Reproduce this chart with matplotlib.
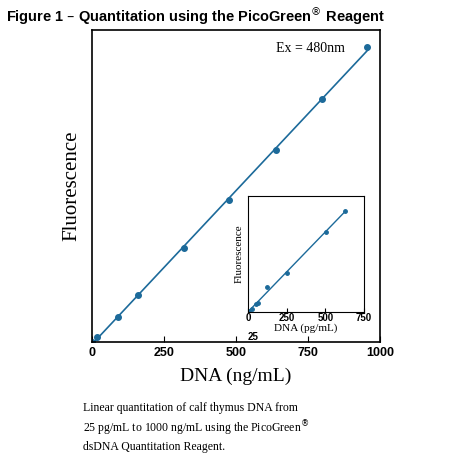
import matplotlib
matplotlib.use("Agg")
import matplotlib.pyplot as plt
import numpy as np

main_x = [0, 17, 90, 160, 320, 476, 639, 799, 955]
main_y = [0, 15, 80, 150, 300, 455, 615, 778, 945]
ins_x = [7, 26, 50, 65, 126, 253, 504, 624]
ins_y = [6, 29, 72, 78, 218, 333, 687, 868]
main_ticks = [0, 250, 500, 750, 1000]
ins_ticks = [0, 250, 500, 750]
col = "#1c6a9a"

fig = plt.figure(figsize=(4.74, 4.65), dpi=100)
fig.text(0.012, 0.965, "Figure 1 – Quantitation using the PicoGreen$^{®}$ Reagent",
         fontsize=10.5, fontweight="bold", family="Liberation Sans", va="center")
ax = fig.add_axes([92/474, 1-342/465, 288/474, 312/465])
p = np.polyfit(main_x, main_y, 1)
xx = np.array([0, 960])
ax.plot(xx, np.polyval(p, xx), color=col, lw=1.2)
ax.plot(main_x, main_y, "o", color=col, ms=4)
ax.set_xlim(0, 1000); ax.set_ylim(0, 1000)
ax.set_yticks([])
ax.set_xticks(main_ticks)
ax.set_xticklabels([str(t) for t in main_ticks], family="Liberation Sans", fontweight="bold", fontsize=9)
ax.tick_params(axis="x", direction="in", length=4)
ax.set_xlabel("DNA (ng/mL)", family="Liberation Serif", fontsize=14, labelpad=6)
ax.set_ylabel("Fluorescence", family="Liberation Serif", fontsize=15, labelpad=8)
ax.text(640, 930, "Ex = 480nm", family="Liberation Serif", fontsize=10)
for s in ax.spines.values(): s.set_linewidth(1.2)

ia = fig.add_axes([248/474, 1-312/465, 116/474, 116/465])
pi = np.polyfit(ins_x, ins_y, 1)
xi = np.array([0, 630])
ia.plot(xi, np.polyval(pi, xi), color=col, lw=1)
ia.plot(ins_x, ins_y, "o", color=col, ms=2.5)
ia.set_xlim(0, 750); ia.set_ylim(0, 1000)
ia.set_yticks([])
ia.set_xticks(ins_ticks)
ia.set_xticklabels([str(t) for t in ins_ticks], family="Liberation Sans", fontweight="bold", fontsize=7)
ia.tick_params(axis="x", direction="in", length=3, pad=1)
ia.set_xlabel("DNA (pg/mL)", family="Liberation Serif", fontsize=8, labelpad=0)
ia.set_ylabel("Fluorescence", family="Liberation Serif", fontsize=8, labelpad=3)
ia.text(0.04, -0.24, "25", transform=ia.transAxes, family="Liberation Sans", fontweight="bold", fontsize=7, ha="center")

fig.text(0.175, 0.025, "Linear quantitation of calf thymus DNA from\n25 pg/mL to 1000 ng/mL using the PicoGreen$^{®}$\ndsDNA Quantitation Reagent.",
         family="Liberation Serif", fontsize=8.5, va="bottom", linespacing=1.35)
fig.savefig("out.png", dpi=100)
